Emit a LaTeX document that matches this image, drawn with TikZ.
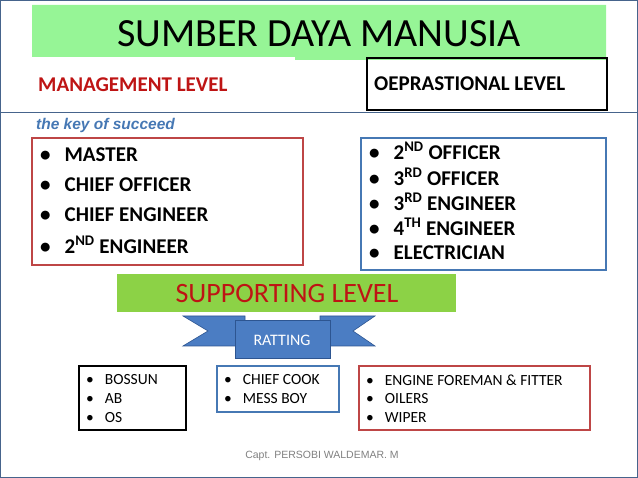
\documentclass[tikz,border=0pt]{standalone}
\usepackage{fontspec}
\setmainfont{Carlito}
\newfontfamily\arialf{Liberation Sans}
\begin{document}
\begin{tikzpicture}[x=1pt,y=-1pt,
  lbl/.style={anchor=west,inner sep=0pt,font=\bfseries\fontsize{21}{22}\selectfont},
  sm/.style={anchor=west,inner sep=0pt,font=\fontsize{15.5}{16}\selectfont},
  box/.style={line width=1.2pt}]
\definecolor{frame}{RGB}{70,100,140}
\definecolor{grn}{RGB}{150,245,150}
\definecolor{lime}{RGB}{140,210,70}
\definecolor{dred}{RGB}{190,20,20}
\definecolor{bred}{RGB}{190,70,70}
\definecolor{bblue}{RGB}{70,120,180}
\definecolor{rib}{RGB}{75,125,195}
\definecolor{ribd}{RGB}{45,85,145}
\useasboundingbox (0,0) rectangle (638,478);
\draw[frame,line width=1pt] (0.5,0.5) rectangle (637.5,477.5);
\draw[frame,line width=1pt] (0,113) -- (638,113);
\fill[grn] (32,5) -| (606,60) -| (295,57) -| cycle;
\node (title) at (319,34) {\fontsize{40}{42}\selectfont SUMBER DAYA MANUSIA};
\node[lbl,text=dred] (ml) at (38,85) {MANAGEMENT LEVEL};
\draw[box] (367,58) rectangle (607,110);
\node[lbl] (ol) at (374,84) {OEPRASTIONAL LEVEL};
\node[anchor=west,inner sep=0pt,text=bblue,font=\arialf\bfseries\itshape\fontsize{15.5}{16}\selectfont] (key) at (36,125) {the key of succeed};
\draw[bred,box] (32,138) rectangle (303,265);
\foreach \y/\t [count=\i] in {155/MASTER,185/CHIEF OFFICER,215/CHIEF ENGINEER,245/2\textsuperscript{ND} ENGINEER}
  {\node[lbl] (mb\i) at (40,\y) {\textbullet\hspace{14pt}\t};}
\draw[bblue,box] (361,138) rectangle (606,270);
\foreach \y/\t [count=\i] in {151/2\textsuperscript{ND} OFFICER,177/3\textsuperscript{RD} OFFICER,202/3\textsuperscript{RD} ENGINEER,227/4\textsuperscript{TH} ENGINEER,253/ELECTRICIAN}
  {\node[lbl] (ob\i) at (369,\y) {\textbullet\hspace{14pt}\t};}
\fill[lime] (117,274) rectangle (456,312);
\node[text=dred,font=\fontsize{28}{30}\selectfont] (sl) at (287,294) {SUPPORTING LEVEL};
% ribbon
\fill[rib,draw=ribd,line width=0.6pt] (183,316) -- (245,316) -- (245,346) -- (183,346) -- (208,331) -- cycle;
\fill[rib,draw=ribd,line width=0.6pt] (375,316) -- (320,316) -- (320,346) -- (375,346) -- (353,331) -- cycle;
\fill[ribd] (235,346) -- (245,346) -- (245,358) -- cycle;
\fill[ribd] (330,346) -- (320,346) -- (320,358) -- cycle;
\fill[rib,draw=ribd,line width=0.6pt] (235,320) rectangle (330,358);
\node[text=white,font=\fontsize{16}{17}\selectfont] (rat) at (282,340) {RATTING};
\draw[box] (79,366) rectangle (186,430);
\draw[bblue,box] (217,366) rectangle (339,412);
\draw[bred,box] (359,366) rectangle (590,430);
\foreach \x/\y/\t [count=\i] in {86/380/BOSSUN,86/399/AB,86/418/OS,224/380/CHIEF COOK,224/399/MESS BOY,366/380/ENGINE FOREMAN \& FITTER,366/399/OILERS,366/418/WIPER}
  {\node[sm] (b\i) at (\x,\y) {\textbullet\hspace{11pt}\t};}
\node[text=gray,font=\arialf\fontsize{10.5}{11}\selectfont] (ft) at (322,456) {Capt. PERSOBI WALDEMAR. M};
\end{tikzpicture}
\end{document}
